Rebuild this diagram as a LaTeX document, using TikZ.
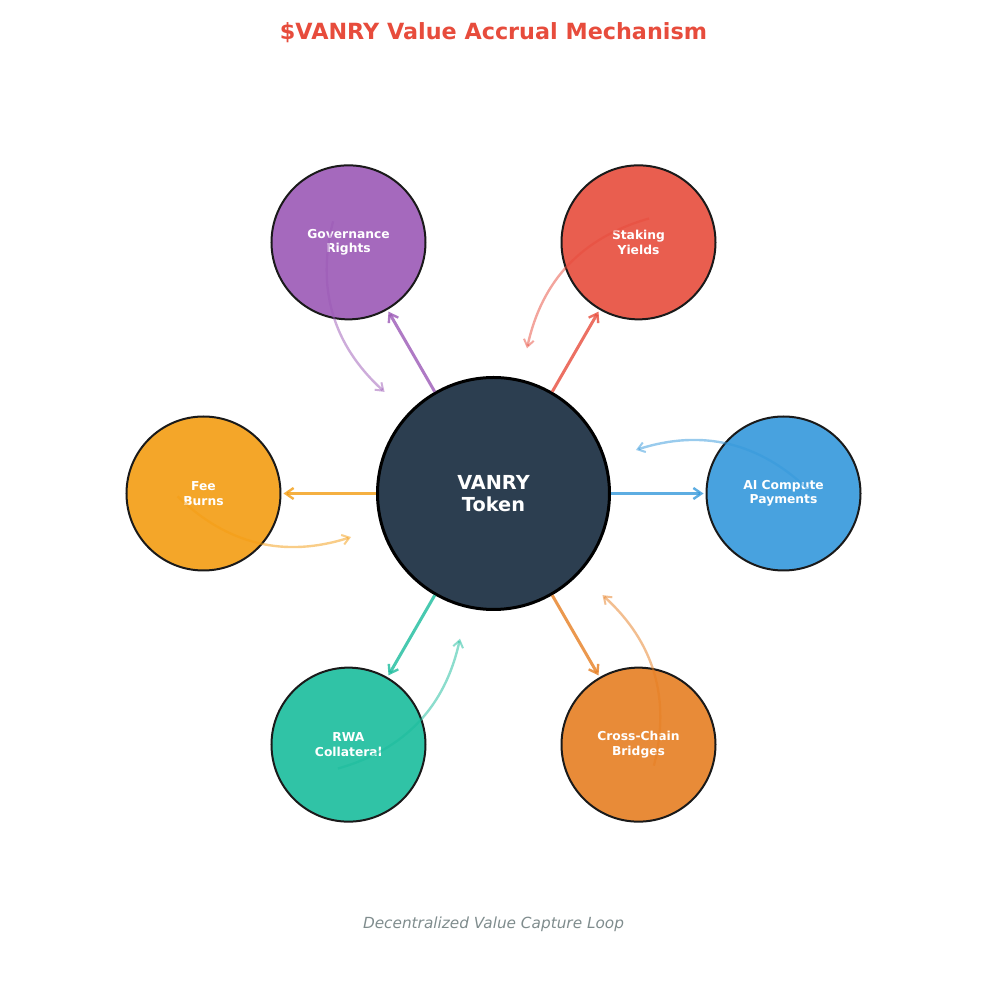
\documentclass[tikz,border=0pt]{standalone}
\usepackage{fontspec}
\setmainfont{DejaVu Sans}
\usetikzlibrary{arrows.meta,calc}
\definecolor{cgov}{HTML}{9B59B6}
\definecolor{cstk}{HTML}{E74C3C}
\definecolor{cai}{HTML}{3498DB}
\definecolor{cfee}{HTML}{F39C12}
\definecolor{crwa}{HTML}{1ABC9C}
\definecolor{ccc}{HTML}{E67E22}
\definecolor{ccen}{HTML}{2C3E50}
\definecolor{csub}{HTML}{7F8C8D}
\definecolor{cedge}{HTML}{1A1A1A}
\tikzset{
  outer/.style={circle, minimum size=154pt, inner sep=0pt, fill=#1, fill opacity=0.9, text opacity=1, draw=cedge, line width=2pt, text=white, font=\bfseries\fontsize{12.3}{14.5}\selectfont, align=center},
  hub/.style={circle, minimum size=232pt, inner sep=0pt, fill=ccen, draw=black, line width=3pt, text=white, font=\bfseries\fontsize{19.3}{22}\selectfont, align=center},
  flow/.style={draw=#1, draw opacity=0.8, line width=3pt, -{Straight Barb[length=8pt,width=11pt,line width=2.4pt]}, shorten >=2pt},
  back/.style={draw=#1, draw opacity=0.5, line width=2.4pt, -{Straight Barb[length=7pt,width=10pt,line width=2pt]}, bend right=31}
}
\begin{document}
\begin{tikzpicture}[x=1pt,y=1pt]
\useasboundingbox (-493.5,-493.5) rectangle (493.5,493.5);
\node[font=\bfseries\fontsize{22.3}{26}\selectfont, text=cstk] (title) at (0,460.5) {\$VANRY Value Accrual Mechanism};
\node[font=\itshape\fontsize{15.3}{18}\selectfont, text=csub] (sub) at (0,-431) {Decentralized Value Capture Loop};

\node[hub] (c) at (0,0) {VANRY\\Token};
\node[outer=cstk] (stk) at (60:290) {Staking\\Yields};
\node[outer=cgov] (gov) at (120:290) {Governance\\Rights};
\node[outer=cfee] (fee) at (180:290) {Fee\\Burns};
\node[outer=crwa] (rwa) at (240:290) {RWA\\Collateral};
\node[outer=ccc] (cc) at (300:290) {Cross-Chain\\Bridges};
\node[outer=cai] (ai) at (0:290) {AI Compute\\Payments};

\draw[flow=cstk] (c.60) -- (stk.240);
\draw[flow=cgov] (c.120) -- (gov.300);
\draw[flow=cfee] (c.180) -- (fee.0);
\draw[flow=crwa] (c.240) -- (rwa.60);
\draw[flow=ccc] (c.300) -- (cc.120);
\draw[flow=cai] (c.0) -- (ai.180);

\foreach \a/\n/\col in {60/stk/cstk,120/gov/cgov,180/fee/cfee,240/rwa/crwa,300/cc/ccc,0/ai/cai}{
  \coordinate (\n s) at (\a+0.5:316);
  \coordinate (\n e) at (\a+17:149);
  \draw[back=\col] (\n s) to (\n e);
}
\end{tikzpicture}
\end{document}
